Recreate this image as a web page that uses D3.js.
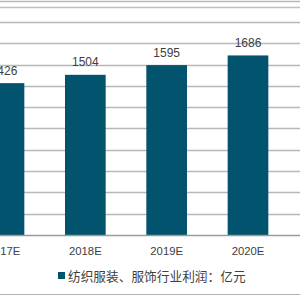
<!DOCTYPE html>
<html>
<head>
<meta charset="utf-8">
<script src="https://cdn.jsdelivr.net/npm/d3@7"></script>
<style>
  body { margin: 0; background: #fff; }
  svg { display: block; }
</style>
</head>
<body>
<div id="chart"></div>
<script>
let width = 300;
let height = 300;

// 数据
let years = ['2017E', '2018E', '2019E', '2020E'];
let profits = [1426, 1504, 1595, 1686];
let gridTicks = [200, 400, 600, 800, 1000, 1200, 1400, 1600, 1800, 2000, 2200];
let legendLabel = '纺织服装、服饰行业利润：亿元';

let barColor = '#02536d';
let font = 'Arial, "Liberation Sans", "Noto Sans CJK SC", sans-serif';

let step = 81.33;
let x = d3.scaleBand()
  .domain(years)
  .range([4 - step / 2, 4 - step / 2 + step * years.length])
  .paddingInner(0.5)
  .paddingOuter(0.25);

let y = d3.scaleLinear()
  .domain([0, 2200])
  .range([235, 0.7]);

const svg = d3.select('#chart').append('svg')
  .attr('width', width)
  .attr('height', height);

// 网格线
svg.append('g')
  .selectAll('line')
  .data(gridTicks)
  .join('line')
  .attr('x1', 0)
  .attr('x2', width)
  .attr('y1', d => Math.round(y(d)) + 0.5)
  .attr('y2', d => Math.round(y(d)) + 0.5)
  .attr('stroke', '#b8b8b8')
  .attr('stroke-width', 1.3);

// 顶部边线
svg.append('line')
  .attr('x1', 0).attr('x2', width)
  .attr('y1', 7.5).attr('y2', 7.5)
  .attr('stroke', '#c0c0c0')
  .attr('stroke-width', 1.3);

// 柱子
svg.append('g')
  .selectAll('rect')
  .data(profits)
  .join('rect')
  .attr('x', (d, i) => x(years[i]))
  .attr('y', d => y(d))
  .attr('width', x.bandwidth())
  .attr('height', d => y(0) - y(d))
  .attr('fill', barColor);

// 数值标签
svg.append('g')
  .selectAll('text')
  .data(profits)
  .join('text')
  .attr('x', (d, i) => x(years[i]) + x.bandwidth() / 2)
  .attr('y', d => y(d) - 8.5)
  .attr('text-anchor', 'middle')
  .attr('font-family', font)
  .attr('font-size', 12)
  .attr('fill', '#404040')
  .text(d => d);

// x轴
let xAxis = g => g
  .attr('transform', `translate(0, ${y(0)})`)
  .call(d3.axisBottom(x).tickSize(0).tickPadding(12))
  .call(g => g.select('.domain').remove())
  .call(g => g.selectAll('text')
    .attr('font-family', font)
    .attr('font-size', 11.3)
    .attr('fill', '#404040'));

svg.append('g').call(xAxis);

svg.append('line')
  .attr('x1', 0).attr('x2', width)
  .attr('y1', y(0) + 0.5).attr('y2', y(0) + 0.5)
  .attr('stroke', '#9a9a9a')
  .attr('stroke-width', 1.5);

// 图例
let legend = svg.append('g').attr('transform', 'translate(58, 272)');
legend.append('rect')
  .attr('width', 7)
  .attr('height', 7)
  .attr('fill', barColor);
legend.append('text')
  .attr('x', 10)
  .attr('y', 8.5)
  .attr('font-family', font)
  .attr('font-size', 12.7)
  .attr('fill', '#404040')
  .text(legendLabel);

// 底部分隔线
svg.append('line')
  .attr('x1', 0).attr('x2', width)
  .attr('y1', 294.5).attr('y2', 294.5)
  .attr('stroke', '#b0b0b0')
  .attr('stroke-width', 1);
</script>
</body>
</html>
